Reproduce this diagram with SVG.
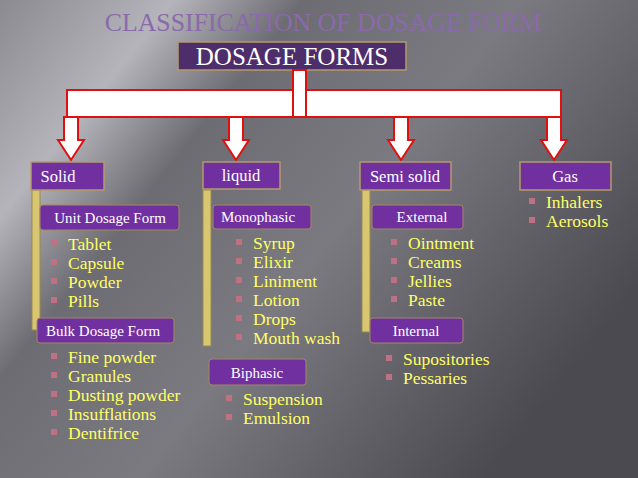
<svg xmlns="http://www.w3.org/2000/svg" width="638" height="478" viewBox="0 0 638 478">
<defs>
<linearGradient id="bg" x1="0" y1="0" x2="1" y2="0.6">
<stop offset="0" stop-color="#8a8a90"/><stop offset="0.2" stop-color="#b4b4ba"/><stop offset="0.35" stop-color="#6c6c72"/><stop offset="0.6" stop-color="#7a7a80"/><stop offset="1" stop-color="#4a4a50"/>
</linearGradient>
<style>
.t{font-family:"Liberation Serif",serif}
.cat{fill:#7030a0;stroke:#b49a6a;stroke-width:1.5}
.sub{fill:#7030a0;stroke:#a08a60;stroke-width:1}
.bar{fill:#d8c670;stroke:#9a8a50;stroke-width:1}
.ct{font-family:"Liberation Serif",serif;font-size:16.5px;fill:#fff;text-anchor:middle}
.st{font-family:"Liberation Serif",serif;font-size:15px;fill:#fff;text-anchor:middle}
.it{font-family:"Liberation Serif",serif;font-size:17.5px;fill:#ffff66}
.b{fill:#c07080}
.arr{fill:#fff;stroke:#e01010;stroke-width:2}
</style>
</defs>
<rect width="638" height="478" fill="url(#bg)"/>
<text class="t" x="323" y="31" font-size="25.8" fill="#8a6aaa" text-anchor="middle">CLASSIFICATION OF DOSAGE FORM</text>
<g id="root"><rect x="178" y="42" width="228" height="28" fill="#4e2d6b" stroke="#b49a6a" stroke-width="1.5"/><text class="t" x="292" y="65" font-size="25" fill="#fff" text-anchor="middle">DOSAGE FORMS</text></g>
<g id="connectors">
<rect class="arr" x="67" y="90" width="494" height="27"/>
<rect class="arr" x="293" y="70" width="13" height="47"/>
<path class="arr" d="M64 117V140H58L71 160L84 140H78V117Z"/>
<path class="arr" d="M229 117V140H223L236 160L249 140H243V117Z"/>
<path class="arr" d="M394 117V140H388L401 160L414 140H408V117Z"/>
<path class="arr" d="M547 117V140H541L554 160L567 140H561V117Z"/>
<rect class="bar" x="32" y="190" width="8" height="140"/>
<rect class="bar" x="203" y="190" width="8" height="156"/>
<rect class="bar" x="362" y="190" width="8" height="142"/>
</g>
<g id="solid"><rect class="cat" x="31" y="162" width="73" height="28"/><text class="ct" x="58" y="182">Solid</text></g>
<g id="liquid"><rect class="cat" x="203" y="162" width="77" height="27"/><text class="ct" x="241" y="181">liquid</text></g>
<g id="semisolid"><rect class="cat" x="360" y="162" width="91" height="28"/><text class="ct" x="405" y="182">Semi solid</text></g>
<g id="gas"><rect class="cat" x="520" y="162" width="91" height="28"/><text class="ct" x="565" y="182">Gas</text></g>
<g id="unit"><rect class="sub" x="40" y="205" width="139" height="25" rx="3"/><text class="st" x="110" y="223">Unit Dosage Form</text></g>
<g id="bulk"><rect class="sub" x="37" y="318" width="137" height="25" rx="3"/><text class="st" x="103" y="336">Bulk Dosage Form</text></g>
<g id="mono"><rect class="sub" x="213" y="205" width="98" height="24" rx="3"/><text class="st" x="258" y="222">Monophasic</text></g>
<g id="bi"><rect class="sub" x="209" y="359" width="97" height="26" rx="3"/><text class="st" x="257" y="378">Biphasic</text></g>
<g id="ext"><rect class="sub" x="372" y="205" width="91" height="24" rx="3"/><text class="st" x="422" y="222">External</text></g>
<g id="int"><rect class="sub" x="370" y="318" width="93" height="25" rx="3"/><text class="st" x="416" y="336">Internal</text></g>
<g id="items">
<g class="b">
<rect x="51" y="240" width="6" height="6"/><rect x="51" y="259" width="6" height="6"/><rect x="51" y="278" width="6" height="6"/><rect x="51" y="297" width="6" height="6"/>
<rect x="51" y="353" width="6" height="6"/><rect x="51" y="372" width="6" height="6"/><rect x="51" y="391" width="6" height="6"/><rect x="51" y="410" width="6" height="6"/><rect x="51" y="429" width="6" height="6"/>
<rect x="236" y="239" width="6" height="6"/><rect x="236" y="258" width="6" height="6"/><rect x="236" y="277" width="6" height="6"/><rect x="236" y="296" width="6" height="6"/><rect x="236" y="315" width="6" height="6"/><rect x="236" y="334" width="6" height="6"/>
<rect x="226" y="395" width="6" height="6"/><rect x="226" y="414" width="6" height="6"/>
<rect x="391" y="239" width="6" height="6"/><rect x="391" y="258" width="6" height="6"/><rect x="391" y="277" width="6" height="6"/><rect x="391" y="296" width="6" height="6"/>
<rect x="386" y="355" width="6" height="6"/><rect x="386" y="374" width="6" height="6"/>
<rect x="529" y="198" width="6" height="6"/><rect x="529" y="217" width="6" height="6"/>
</g>
<text class="it" x="68" y="250">Tablet</text><text class="it" x="68" y="269">Capsule</text><text class="it" x="68" y="288">Powder</text><text class="it" x="68" y="307">Pills</text>
<text class="it" x="68" y="363">Fine powder</text><text class="it" x="68" y="382">Granules</text><text class="it" x="68" y="401">Dusting powder</text><text class="it" x="68" y="420">Insufflations</text><text class="it" x="68" y="439">Dentifrice</text>
<text class="it" x="253" y="249">Syrup</text><text class="it" x="253" y="268">Elixir</text><text class="it" x="253" y="287">Liniment</text><text class="it" x="253" y="306">Lotion</text><text class="it" x="253" y="325">Drops</text><text class="it" x="253" y="344">Mouth wash</text>
<text class="it" x="243" y="405">Suspension</text><text class="it" x="243" y="424">Emulsion</text>
<text class="it" x="408" y="249">Ointment</text><text class="it" x="408" y="268">Creams</text><text class="it" x="408" y="287">Jellies</text><text class="it" x="408" y="306">Paste</text>
<text class="it" x="403" y="365">Supositories</text><text class="it" x="403" y="384">Pessaries</text>
<text class="it" x="546" y="208">Inhalers</text><text class="it" x="546" y="227">Aerosols</text>
</g>
</svg>
